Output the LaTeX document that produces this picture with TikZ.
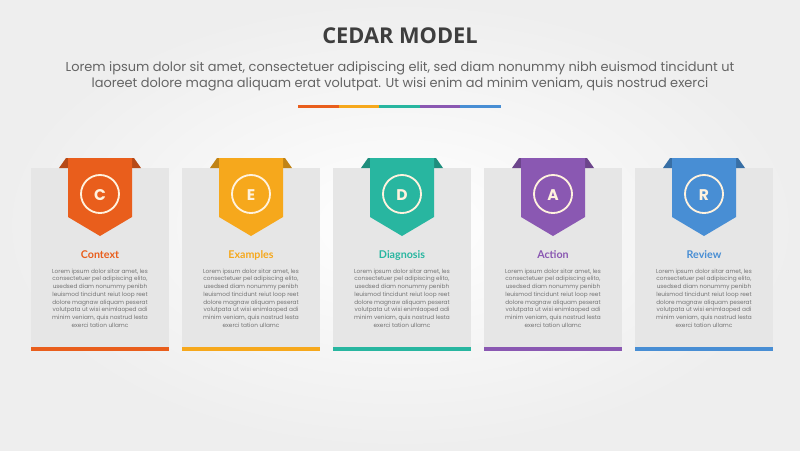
\documentclass[tikz,border=0pt]{standalone}
\usepackage{fontspec}
\setmainfont{Poppins}
\newfontfamily\headfont{Open Sans}
\newfontfamily\tagfont{Lato}
\definecolor{cedarC}{RGB}{233,94,28}
\definecolor{cedarE}{RGB}{246,168,28}
\definecolor{cedarD}{RGB}{40,182,160}
\definecolor{cedarA}{RGB}{138,88,178}
\definecolor{cedarR}{RGB}{72,142,212}
\definecolor{cardgray}{RGB}{230,230,230}
\definecolor{bggray}{RGB}{238,238,238}
\definecolor{titlegray}{RGB}{62,62,62}
\definecolor{introgray}{RGB}{100,100,100}
\definecolor{bodygray}{RGB}{115,115,115}
\definecolor{cream}{RGB}{255,242,222}
\tikzset{
  card/.style={fill=cardgray},
  bodytext/.style={font=\fontsize{4.1}{5.5}\selectfont, text=bodygray, align=center, inner sep=0pt},
  tagtext/.style={font=\tagfont\bfseries\fontsize{7.6}{8}\selectfont, inner sep=0pt},
}
\begin{document}
\begin{tikzpicture}[x=0.025cm,y=-0.025cm]
\def\cardtext{Lorem ipsum dolor sitar amet, les\\ consectetuer pel adipiscing elito,\\ usedsed diam nonummy penibh\\ leuismod tincidunt reiut loop reet\\ dolore magnaw aliquam peserat\\ volutpata ut wisi enimlaoped adi\\ minim veniam, quis nostrud lesta\\ exerci tation ullamc}
\useasboundingbox (0,0) rectangle (800,450);
\shade[inner color=white, outer color=bggray] (0,0) rectangle (800,450);
\node[font=\headfont\bfseries\fontsize{15.5}{18}\selectfont, text=titlegray] (title) at (400,36) {CEDAR MODEL};
\node[font=\fontsize{9.2}{11.4}\selectfont, text=introgray, align=center] (intro) at (400,76)
  {Lorem ipsum dolor sit amet, consectetuer adipiscing elit, sed diam nonummy nibh euismod tincidunt ut\\
   laoreet dolore magna aliquam erat volutpat. Ut wisi enim ad minim veniam, quis nostrud exerci};
% colour bar under the intro
\foreach \c [count=\i from 0] in {cedarC,cedarE,cedarD,cedarA,cedarR}
  \fill[\c] ({298+40.6*\i},105) rectangle ++(40.6,3);
% the five cards
\foreach \c/\l/\t [count=\i from 0] in {cedarC/C/Context, cedarE/E/Examples, cedarD/D/Diagnosis, cedarA/A/Action, cedarR/R/Review}{
  \begin{scope}[shift={(151*\i,0)}]
  \fill[card] (31,168) rectangle (169,347);
  \fill[\c] (31,347) rectangle (169,351);
  \fill[\c!78!black] (66,158) -- (134,158) -- (141,168) -- (59,168) -- cycle;% ribbon ears
  \fill[\c] (68,158) -- (132,158) -- (132,217) -- (100,236) -- (68,217) -- cycle;
  \draw[cream, line width=1.3] (100,194) circle [radius=19];
  \node[font=\bfseries\fontsize{11}{12}\selectfont, text=cream] (letter\i) at (100,195) {\l};
  \node[tagtext, text=\c] (tag\i) at (100,255) {\t};
  \node[bodytext] (body\i) at (100,298) {\cardtext};
  \end{scope}
}
\end{tikzpicture}
\end{document}
